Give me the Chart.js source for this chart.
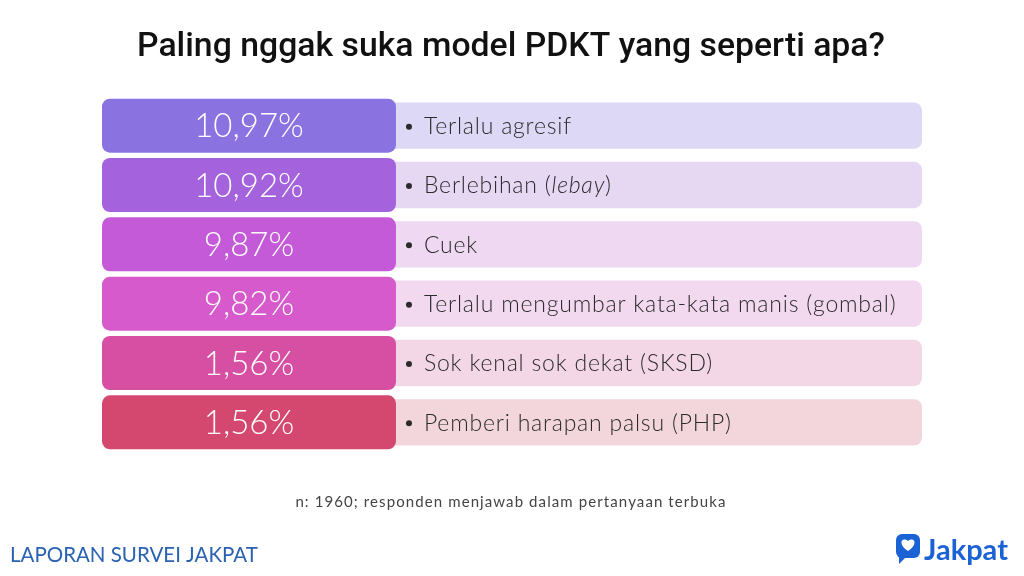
<!DOCTYPE html>
<html>
<head>
  <title>Paling nggak suka model PDKT</title>
  <script src="https://cdn.jsdelivr.net/npm/chart.js"></script>
  <style>
    html, body { margin: 0; padding: 0; background: #fff; }
    #wrap { width: 1024px; height: 576px; position: relative; }
  </style>
</head>
<body>
  <div id="wrap"><canvas id="myChart" width="1024" height="576"></canvas></div>

  <script type="text/javascript">
    // data
    var answers = ['Terlalu agresif', 'Berlebihan (_lebay_)', 'Cuek',
      'Terlalu mengumbar kata-kata manis (gombal)', 'Sok kenal sok dekat (SKSD)',
      'Pemberi harapan palsu (PHP)'];
    var percent = ['10,97%', '10,92%', '9,87%', '9,82%', '1,56%', '1,56%'];
    var darkColors = ['#8a72e0', '#a462dd', '#c45ad7', '#d65acb', '#d64fa3', '#d4486f'];
    var lightColors = ['#ddd8f5', '#e6d7f3', '#eed8f2', '#f2d9ef', '#f3d7e6', '#f2d6dc'];

    var title = 'Paling nggak suka model PDKT yang seperti apa?';
    var note = 'n: 1960; responden menjawab dalam pertanyaan terbuka';

    // every row is a fixed-size box, value is only printed
    var leftBox = answers.map(function () { return [0, 0.3585]; });
    var rightBox = answers.map(function () { return [0.34, 1]; });

    function fitText(ctx, txt, cx, cy, w) {
      var m = ctx.measureText(txt).width;
      ctx.save();
      ctx.translate(cx, cy);
      ctx.scale(w / m, 1);
      ctx.fillText(txt, 0, 0);
      ctx.restore();
    }

    var textPlugin = {
      id: 'texts',
      afterDatasetsDraw: function (chart) {
        var ctx = chart.ctx;
        var left = chart.getDatasetMeta(0).data;
        var right = chart.getDatasetMeta(1).data;
        ctx.save();
        ctx.textBaseline = 'middle';
        for (var i = 0; i < answers.length; i++) {
          var b = left[i];
          ctx.fillStyle = '#ffffff';
          ctx.textAlign = 'center';
          ctx.letterSpacing = '0px';
          ctx.font = '300 33px Lato, "Open Sans", sans-serif';
          ctx.fillText(percent[i], (b.x + b.base) / 2, b.y + 1);

          var r = right[i];
          var x = b.x + 9;
          ctx.fillStyle = '#2b2b2b';
          ctx.textAlign = 'left';
          ctx.beginPath();
          ctx.arc(x + 4, r.y + 1, 3, 0, Math.PI * 2);
          ctx.fill();
          x += 19;
          ctx.letterSpacing = '0.8px';
          var parts = answers[i].split('_');
          for (var p = 0; p < parts.length; p++) {
            ctx.font = (p % 2 ? 'italic ' : '') + '300 23px Lato, "Open Sans", sans-serif';
            ctx.fillText(parts[p], x, r.y + 1);
            x += ctx.measureText(parts[p]).width;
          }
        }

        ctx.letterSpacing = '0px';
        ctx.textAlign = 'center';
        ctx.fillStyle = '#111111';
        ctx.font = '500 33px Roboto, sans-serif';
        fitText(ctx, title, 511, 48, 748);

        ctx.fillStyle = '#444444';
        ctx.letterSpacing = '1.1px';
        ctx.font = '15px Lato, "Open Sans", sans-serif';
        ctx.fillText(note, 511, 502);

        ctx.letterSpacing = '0px';
        ctx.textAlign = 'left';
        ctx.fillStyle = '#2a62b2';
        ctx.font = '20.5px Lato, "Open Sans", sans-serif';
        ctx.fillText('LAPORAN SURVEI JAKPAT', 10, 555);

        // logo
        ctx.fillStyle = '#1b63d4';
        ctx.beginPath();
        ctx.roundRect(896, 534, 24, 24, 6);
        ctx.fill();
        ctx.beginPath();
        ctx.moveTo(899, 555);
        ctx.lineTo(899, 564);
        ctx.lineTo(907, 556);
        ctx.fill();
        ctx.fillStyle = '#ffffff';
        ctx.beginPath();
        ctx.moveTo(908, 551);
        ctx.bezierCurveTo(897, 544, 902, 536, 908, 541);
        ctx.bezierCurveTo(914, 536, 919, 544, 908, 551);
        ctx.fill();
        ctx.fillStyle = '#1b63d4';
        ctx.font = 'bold 29px Lato, "Open Sans", sans-serif';
        ctx.fillText('Jakpat', 924, 551);
        ctx.restore();
      }
    };

    const ctx = document.getElementById('myChart').getContext('2d');
    new Chart(ctx, {
      type: 'bar',
      data: {
        labels: answers,
        datasets: [{
          label: 'persen',
          data: leftBox,
          backgroundColor: darkColors,
          borderRadius: 8,
          borderSkipped: false,
          grouped: false,
          categoryPercentage: 1,
          barPercentage: 0.91
        }, {
          label: 'jawaban',
          data: rightBox,
          backgroundColor: lightColors,
          borderRadius: 8,
          borderSkipped: false,
          grouped: false,
          categoryPercentage: 1,
          barPercentage: 0.78
        }]
      },
      options: {
        indexAxis: 'y',
        responsive: false,
        animation: false,
        layout: { padding: { left: 102, right: 102, top: 96, bottom: 124 } },
        scales: {
          x: { display: false, min: 0, max: 1 },
          y: { display: false }
        },
        plugins: {
          legend: { display: false },
          tooltip: { enabled: false }
        }
      },
      plugins: [textPlugin]
    });
  </script>
</body>
</html>
